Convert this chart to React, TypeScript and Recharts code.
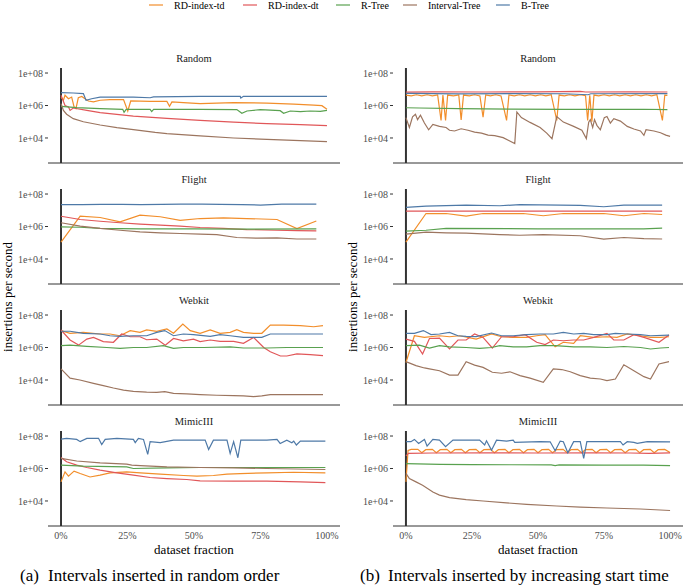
import React from "react";
import { LineChart, Line, XAxis, YAxis, ReferenceLine } from "recharts";

type Pt = [number, number];

const seriesNames = ["RD-index-td", "RD-index-dt", "R-Tree", "Interval-Tree", "B-Tree"];
const seriesColors = ["#F28E2B", "#E15759", "#59A14F", "#9C755F", "#4E79A7"];
const datasetNames = ["Random", "Flight", "Webkit", "MimicIII"];
const yTicks = [1e4, 1e6, 1e8];
const xTicks = [0, 0.25, 0.5, 0.75, 1];
const captions = ["Intervals inserted in random order", "Intervals inserted by increasing start time"];

// (a) random insertion order -------------------------------------------
const aRandomTd: Pt[] = [[0,3.3e6],[0.009,2.1e6],[0.015,4.3e6],[0.028,2.6e6],[0.04,3.3e6],[0.049,8.1e5],[0.056,6.5e5],[0.065,3.0e6],[0.078,3.6e6],[0.09,2.6e6],[0.103,1.9e6],[0.122,1.66e6],[0.147,2.1e6],[0.184,2.3e6],[0.235,2.3e6],[0.251,4.6e5],[0.262,1.9e6],[0.335,1.8e6],[0.398,1.8e6],[0.408,8.9e5],[0.417,1.66e6],[0.46,1.5e6],[0.523,1.3e6],[0.649,1.5e6],[0.774,1.4e6],[0.875,1.2e6],[0.95,1.07e6],[0.981,9.8e5],[1,5.8e5]];
const aRandomDt: Pt[] = [[0,4.3e6],[0.015,1.0e6],[0.028,8.1e5],[0.034,5.0e5],[0.046,7.0e5],[0.097,5.0e5],[0.147,3.6e5],[0.272,2.2e5],[0.398,1.6e5],[0.523,1.23e5],[0.649,9.6e4],[0.774,7.6e4],[0.9,6.6e4],[1,5.7e4]];
const aRandomRt: Pt[] = [[0,8.9e5],[0.059,7.4e5],[0.147,6.5e5],[0.232,5.8e5],[0.237,3.8e5],[0.245,5.8e5],[0.335,5.8e5],[0.341,4.2e5],[0.348,5.8e5],[0.523,5.8e5],[0.661,5.6e5],[0.68,3.3e5],[0.699,4.6e5],[0.749,5.6e5],[0.824,4.8e5],[0.837,3.3e5],[0.862,4.6e5],[0.9,4.2e5],[0.937,4.6e5],[0.975,4.4e5],[1,5.0e5]];
const aRandomIt: Pt[] = [[0,1.3e6],[0.009,5.0e5],[0.021,2.9e5],[0.046,1.55e5],[0.084,1.0e5],[0.147,6.3e4],[0.21,4.4e4],[0.272,3.3e4],[0.354,2.2e4],[0.398,1.87e4],[0.523,1.33e4],[0.649,1.0e4],[0.774,8.3e3],[0.9,6.9e3],[1,5.9e3]];
const aRandomBt: Pt[] = [[0,6.2e6],[0.046,5.9e6],[0.084,5.4e6],[0.094,2.1e6],[0.115,2.6e6],[0.147,3.3e6],[0.272,3.3e6],[0.335,3.0e6],[0.348,3.4e6],[0.523,3.6e6],[0.674,3.6e6],[0.676,2.9e6],[0.686,3.7e6],[0.837,3.7e6],[1,3.7e6]];

const aFlightTd: Pt[] = [[0,1.1e5],[0.072,4.3e6],[0.147,3.6e6],[0.222,1.95e6],[0.297,5.0e6],[0.373,4.0e6],[0.448,2.4e6],[0.523,3.1e6],[0.611,3.4e6],[0.699,3.1e6],[0.812,2.7e6],[0.887,7.5e5],[0.96,2.2e6]];
const aFlightDt: Pt[] = [[0,4.3e6],[0.072,2.7e6],[0.147,2.1e6],[0.222,1.7e6],[0.297,1.4e6],[0.373,1.2e6],[0.448,1.05e6],[0.523,8.7e5],[0.611,7.6e5],[0.699,6.5e5],[0.812,5.9e5],[0.887,5.6e5],[0.96,5.4e5]];
const aFlightRt: Pt[] = [[0,9.5e5],[0.072,9.0e5],[0.147,7.6e5],[0.3,7.2e5],[0.5,7.2e5],[0.7,6.9e5],[0.96,7.2e5]];
const aFlightIt: Pt[] = [[0,1.7e6],[0.072,1.05e6],[0.147,7.6e5],[0.222,5.9e5],[0.297,4.7e5],[0.373,4.1e5],[0.448,3.7e5],[0.523,3.4e5],[0.586,3.2e5],[0.661,2.1e5],[0.737,1.9e5],[0.812,2.0e5],[0.887,1.7e5],[0.96,1.7e5]];
const aFlightBt: Pt[] = [[0,2.2e7],[0.08,2.2e7],[0.15,2.3e7],[0.23,2.3e7],[0.3,2.2e7],[0.38,2.3e7],[0.45,2.4e7],[0.53,2.4e7],[0.6,2.3e7],[0.68,2.2e7],[0.75,2.1e7],[0.83,2.4e7],[0.96,2.4e7]];

const aWebkitTd: Pt[] = [[0,1.1e7],[0.034,7.5e6],[0.084,8.6e6],[0.147,6.8e6],[0.184,6.8e6],[0.222,5.3e6],[0.26,1.1e7],[0.297,8.6e6],[0.322,1.2e7],[0.36,1.0e7],[0.398,1.4e7],[0.423,7.5e6],[0.458,2.8e7],[0.486,1.1e7],[0.523,7.5e6],[0.561,1.2e7],[0.598,7.5e6],[0.636,8.6e6],[0.661,1.26e7],[0.686,8.6e6],[0.724,7.5e6],[0.755,7.5e6],[0.787,2.4e7],[0.837,2.4e7],[0.9,2.2e7],[0.95,1.9e7],[0.985,2.2e7]];
const aWebkitDt: Pt[] = [[0,1.2e7],[0.034,2.9e6],[0.066,1.4e6],[0.097,3.3e6],[0.122,4.2e6],[0.159,2.3e6],[0.197,2.1e6],[0.228,6.8e6],[0.26,4.6e6],[0.297,4.6e6],[0.322,3.0e6],[0.36,3.3e6],[0.392,1.4e6],[0.423,3.6e6],[0.46,2.6e6],[0.498,3.3e6],[0.523,2.3e6],[0.561,2.9e6],[0.598,2.4e6],[0.649,2.4e6],[0.686,1.8e6],[0.724,4.2e6],[0.762,1.0e6],[0.787,5.5e5],[0.825,3.0e5],[0.849,3.0e5],[0.887,4.0e5],[0.937,3.6e5],[0.985,3.2e5]];
const aWebkitRt: Pt[] = [[0,1.3e6],[0.034,1.4e6],[0.097,1.17e6],[0.172,1.0e6],[0.222,8.9e5],[0.272,1.0e6],[0.322,1.0e6],[0.385,1.3e6],[0.423,8.9e5],[0.46,1.0e6],[0.536,1.0e6],[0.636,1.1e6],[0.686,9.3e5],[0.774,9.3e5],[0.849,1.0e6],[0.985,1.0e6]];
const aWebkitIt: Pt[] = [[0,4.8e4],[0.034,1.3e4],[0.071,1.0e4],[0.122,6.2e3],[0.159,4.5e3],[0.197,3.2e3],[0.235,2.4e3],[0.272,2.0e3],[0.322,1.8e3],[0.36,1.75e3],[0.39,1.9e3],[0.423,1.5e3],[0.473,1.4e3],[0.523,1.26e3],[0.586,1.15e3],[0.649,1.1e3],[0.686,1.05e3],[0.724,9.4e2],[0.755,1.05e3],[0.787,1.26e3],[0.9,1.26e3],[0.985,1.26e3]];
const aWebkitBt: Pt[] = [[0,1.0e7],[0.034,1.0e7],[0.084,7.5e6],[0.147,6.8e6],[0.184,5.3e6],[0.222,4.9e6],[0.272,5.3e6],[0.322,5.3e6],[0.36,8.6e6],[0.39,1.1e7],[0.423,5.3e6],[0.46,6.8e6],[0.498,6.2e6],[0.561,4.9e6],[0.598,6.2e6],[0.636,5.3e6],[0.686,4.2e6],[0.755,4.2e6],[0.787,6.8e6],[0.9,6.8e6],[0.985,6.8e6]];

const aMimicTd: Pt[] = [[0,1.5e5],[0.015,6.2e5],[0.028,3.4e5],[0.049,6.9e5],[0.072,4.9e5],[0.109,3.0e5],[0.147,3.9e5],[0.184,5.4e5],[0.247,6.2e5],[0.298,5.4e5],[0.373,4.5e5],[0.461,3.7e5],[0.511,3.4e5],[0.573,3.7e5],[0.624,4.5e5],[0.674,4.9e5],[0.774,5.4e5],[0.875,5.9e5],[0.994,5.4e5]];
const aMimicDt: Pt[] = [[0,4.8e6],[0.021,2.6e6],[0.059,1.6e6],[0.097,1.15e6],[0.147,7.9e5],[0.21,5.4e5],[0.272,3.9e5],[0.335,2.8e5],[0.398,2.4e5],[0.473,2.1e5],[0.523,1.73e5],[0.649,1.65e5],[0.774,1.65e5],[0.9,1.5e5],[0.994,1.35e5]];
const aMimicRt: Pt[] = [[0,1.6e6],[0.084,1.4e6],[0.247,1.26e6],[0.272,1.0e6],[0.398,1.1e6],[0.523,1.15e6],[0.774,1.15e6],[0.994,1.15e6]];
const aMimicIt: Pt[] = [[0,4.2e6],[0.059,2.9e6],[0.147,2.2e6],[0.247,1.85e6],[0.266,1.6e6],[0.298,1.5e6],[0.398,1.27e6],[0.523,1.15e6],[0.649,1.1e6],[0.774,1.0e6],[0.994,8.7e5]];
const aMimicBt: Pt[] = [[0,6.5e7],[0.021,7.2e7],[0.059,6.2e7],[0.072,4.5e7],[0.097,7.2e7],[0.141,7.2e7],[0.153,3.0e7],[0.166,6.2e7],[0.21,7.2e7],[0.272,6.2e7],[0.279,3.9e7],[0.291,7.2e7],[0.31,6.2e7],[0.326,7.4e6],[0.335,4.5e7],[0.373,3.9e7],[0.423,5.6e7],[0.542,5.6e7],[0.555,1.5e7],[0.573,5.6e7],[0.624,5.6e7],[0.636,8.5e6],[0.649,4.5e7],[0.665,4.6e6],[0.676,5.6e7],[0.774,5.6e7],[0.812,6.2e7],[0.824,3.5e7],[0.849,5.6e7],[0.868,3.9e7],[0.875,4.9e7],[0.885,2.8e7],[0.9,4.9e7],[0.994,4.9e7]];

// (b) insertion by increasing start time -------------------------------
const bRandomTd: Pt[] = [[0,4.4e6],[0.02,3.9e6],[0.04,4.6e6],[0.06,3.9e6],[0.08,4.6e6],[0.1,3.9e6],[0.12,4.5e6],[0.133,1.2e5],[0.14,4.4e6],[0.15,1.2e5],[0.158,4.4e6],[0.18,3.9e6],[0.2,4.5e6],[0.209,1.3e5],[0.218,4.4e6],[0.24,3.9e6],[0.26,4.6e6],[0.28,3.9e6],[0.292,1.9e5],[0.302,4.5e6],[0.32,3.9e6],[0.34,4.6e6],[0.36,3.9e6],[0.381,1.2e5],[0.39,4.5e6],[0.41,3.9e6],[0.43,4.6e6],[0.45,3.9e6],[0.47,4.6e6],[0.49,3.9e6],[0.51,4.6e6],[0.53,3.9e6],[0.55,4.6e6],[0.571,1.2e5],[0.58,4.4e6],[0.6,3.9e6],[0.62,4.6e6],[0.64,3.9e6],[0.66,4.6e6],[0.68,4.0e6],[0.688,1.2e5],[0.696,4.3e6],[0.704,1.0e5],[0.712,4.4e6],[0.73,3.9e6],[0.75,4.6e6],[0.77,3.9e6],[0.79,4.6e6],[0.81,3.9e6],[0.83,4.6e6],[0.85,3.9e6],[0.87,4.6e6],[0.89,3.9e6],[0.91,4.6e6],[0.93,3.9e6],[0.95,4.6e6],[0.971,1.2e5],[0.98,4.4e6],[0.99,4.2e6]];
const bRandomDt: Pt[] = [[0,6.6e6],[0.1,6.9e6],[0.3,6.8e6],[0.5,6.9e6],[0.66,7.4e6],[0.68,6.8e6],[0.85,6.9e6],[0.99,6.8e6]];
const bRandomRt: Pt[] = [[0,7.3e5],[0.05,7.0e5],[0.2,6.4e5],[0.4,6.0e5],[0.6,5.8e5],[0.8,5.7e5],[0.9,5.9e5],[0.99,5.6e5]];
const bRandomIt: Pt[] = [[0,1.8e5],[0.013,4.4e4],[0.025,2.0e5],[0.036,2.9e5],[0.044,1.35e5],[0.055,2.5e5],[0.07,8.3e4],[0.086,3.2e4],[0.102,6.9e4],[0.127,5.2e4],[0.152,4.4e4],[0.165,3.0e4],[0.184,2.7e4],[0.209,3.7e4],[0.235,3.0e4],[0.26,2.3e4],[0.286,2.0e4],[0.311,1.5e4],[0.336,1.4e4],[0.368,1.05e4],[0.412,4.5e3],[0.42,4.0e5],[0.437,1.8e5],[0.47,9.1e4],[0.508,4.4e4],[0.533,2.0e4],[0.553,9.1e3],[0.571,2.1e5],[0.596,9.5e4],[0.635,5.2e4],[0.666,3.0e4],[0.683,9.1e3],[0.692,9.5e4],[0.698,1.35e5],[0.707,4.4e4],[0.714,1.35e5],[0.723,6.0e4],[0.736,3.2e4],[0.751,1.8e5],[0.761,2.1e5],[0.774,8.3e4],[0.787,1.55e5],[0.812,1.1e5],[0.838,5.2e4],[0.863,3.6e4],[0.888,2.7e4],[0.901,1.45e4],[0.909,3.2e4],[0.939,2.7e4],[0.964,2.1e4],[0.984,1.5e4],[1,1.26e4]];
const bRandomBt: Pt[] = [[0,5.6e6],[0.2,5.2e6],[0.4,5.4e6],[0.6,5.3e6],[0.69,4.6e6],[0.7,5.3e6],[0.99,5.4e6]];

const bFlightTd: Pt[] = [[0,1.1e5],[0.076,6.3e6],[0.152,6.3e6],[0.228,4.4e6],[0.292,6.3e6],[0.444,6.3e6],[0.52,4.6e6],[0.596,6.3e6],[0.749,6.3e6],[0.825,4.6e6],[0.901,6.3e6],[0.97,5.5e6]];
const bFlightDt: Pt[] = [[0,8.9e6],[0.2,8.9e6],[0.5,8.8e6],[0.8,8.9e6],[0.97,8.9e6]];
const bFlightRt: Pt[] = [[0,5.2e5],[0.076,5.9e5],[0.152,7.6e5],[0.5,7.2e5],[0.9,7.2e5],[0.97,7.9e5]];
const bFlightIt: Pt[] = [[0,3.4e5],[0.076,4.5e5],[0.152,4.1e5],[0.228,3.9e5],[0.355,3.2e5],[0.431,2.9e5],[0.52,3.2e5],[0.66,2.7e5],[0.749,1.66e5],[0.825,2.1e5],[0.901,1.8e5],[0.97,1.7e5]];
const bFlightBt: Pt[] = [[0,1.5e7],[0.076,1.8e7],[0.228,2.1e7],[0.355,1.9e7],[0.431,2.2e7],[0.66,2.0e7],[0.749,1.65e7],[0.825,2.1e7],[0.97,2.1e7]];

const bWebkitTd: Pt[] = [[0,1.2e5],[0.032,5.3e6],[0.07,4.2e6],[0.127,5.3e6],[0.165,4.6e6],[0.203,5.3e6],[0.266,3.3e6],[0.324,6.8e6],[0.362,4.6e6],[0.406,4.2e6],[0.457,4.2e6],[0.495,5.3e6],[0.527,6.2e6],[0.565,1.1e6],[0.596,2.1e6],[0.635,1.8e6],[0.66,5.3e6],[0.711,4.2e6],[0.761,4.6e6],[0.799,4.2e6],[0.838,6.8e6],[0.888,5.3e6],[0.926,4.2e6],[0.964,4.2e6],[0.996,4.6e6]];
const bWebkitDt: Pt[] = [[0,3.3e6],[0.032,2.4e6],[0.063,4.0e5],[0.089,3.6e6],[0.127,3.8e6],[0.165,8.1e5],[0.197,2.9e6],[0.228,2.9e6],[0.26,6.8e6],[0.292,4.2e6],[0.327,9.3e5],[0.362,4.6e6],[0.406,4.6e6],[0.451,6.2e6],[0.495,2.1e6],[0.527,1.5e6],[0.558,2.9e6],[0.596,2.6e6],[0.635,2.9e6],[0.673,2.9e6],[0.711,4.2e6],[0.761,7.4e6],[0.787,2.9e6],[0.825,2.9e6],[0.863,6.2e6],[0.901,4.2e6],[0.958,2.1e6],[0.996,5.8e6]];
const bWebkitRt: Pt[] = [[0,1.3e6],[0.051,1.4e6],[0.089,9.3e5],[0.127,1.3e6],[0.165,1.1e6],[0.228,1.0e6],[0.279,8.9e5],[0.324,1.0e6],[0.355,1.3e6],[0.406,1.1e6],[0.457,1.1e6],[0.508,1.3e6],[0.565,1.3e6],[0.635,1.1e6],[0.698,1.1e6],[0.761,1.0e6],[0.825,1.15e6],[0.888,1.0e6],[0.926,8.1e5],[0.964,9.3e5],[0.996,1.0e6]];
const bWebkitIt: Pt[] = [[0,1.35e5],[0.038,7.6e4],[0.07,5.5e4],[0.089,4.8e4],[0.127,3.7e4],[0.165,2.0e4],[0.197,2.0e4],[0.228,1.35e5],[0.26,8.3e4],[0.292,6.0e4],[0.327,3.0e4],[0.362,2.6e4],[0.394,3.2e4],[0.432,1.85e4],[0.47,1.3e4],[0.52,7.2e3],[0.558,4.8e4],[0.59,4.4e4],[0.622,3.2e4],[0.66,1.85e4],[0.698,1.3e4],[0.736,1.15e4],[0.761,9.1e3],[0.793,1.15e4],[0.825,8.7e4],[0.863,3.7e4],[0.901,1.6e4],[0.926,1.15e4],[0.958,9.6e4],[0.996,1.35e5]];
const bWebkitBt: Pt[] = [[0,7.4e6],[0.032,7.4e6],[0.066,1.1e7],[0.095,6.2e6],[0.127,6.8e6],[0.165,8.6e6],[0.197,5.3e6],[0.228,4.9e6],[0.266,4.7e6],[0.324,7.8e6],[0.362,5.3e6],[0.406,5.3e6],[0.457,6.2e6],[0.508,6.8e6],[0.558,6.8e6],[0.596,8.6e6],[0.635,6.8e6],[0.673,7.4e6],[0.711,6.2e6],[0.761,6.2e6],[0.793,7.4e6],[0.838,6.8e6],[0.888,6.2e6],[0.926,5.3e6],[0.996,5.8e6]];

const bMimicTd: Pt[] = [[0,1.5e5],[0.008,1.3e7],[0.02,1.5e7],[0.045,1.5e7],[0.06,9.5e6],[0.075,1.45e7],[0.1,1.5e7],[0.115,9.5e6],[0.13,1.45e7],[0.155,1.5e7],[0.17,9.5e6],[0.185,1.45e7],[0.21,1.5e7],[0.225,9.5e6],[0.24,1.45e7],[0.265,1.5e7],[0.28,9.5e6],[0.295,1.45e7],[0.32,1.5e7],[0.335,9.5e6],[0.35,1.45e7],[0.375,1.5e7],[0.39,9.5e6],[0.405,1.45e7],[0.43,1.5e7],[0.445,9.5e6],[0.46,1.45e7],[0.485,1.5e7],[0.5,9.5e6],[0.515,1.45e7],[0.54,1.5e7],[0.555,9.5e6],[0.57,1.45e7],[0.595,1.5e7],[0.61,9.5e6],[0.625,1.45e7],[0.65,1.5e7],[0.665,9.5e6],[0.68,1.45e7],[0.705,1.5e7],[0.72,9.5e6],[0.735,1.45e7],[0.76,1.5e7],[0.775,9.5e6],[0.79,1.45e7],[0.815,1.5e7],[0.83,9.5e6],[0.845,1.45e7],[0.87,1.5e7],[0.885,9.5e6],[0.9,1.45e7],[0.925,1.5e7],[0.94,9.5e6],[0.955,1.45e7],[0.98,1.5e7],[1,9.8e6]];
const bMimicDt: Pt[] = [[0,6.0e6],[0.01,8.5e6],[0.1,9.0e6],[0.3,9.2e6],[0.5,9.0e6],[0.7,9.3e6],[0.85,9.0e6],[0.92,8.5e6],[1,9.2e6]];
const bMimicRt: Pt[] = [[0,2.0e6],[0.13,1.8e6],[0.25,1.75e6],[0.4,1.7e6],[0.55,1.65e6],[0.565,1.5e6],[0.58,1.65e6],[0.75,1.6e6],[0.9,1.6e6],[1,1.5e6]];
const bMimicIt: Pt[] = [[0,5.0e5],[0.013,2.4e5],[0.038,1.5e5],[0.063,9.3e4],[0.102,3.6e4],[0.127,2.3e4],[0.165,1.6e4],[0.228,1.2e4],[0.292,1.0e4],[0.381,7.6e3],[0.457,6.2e3],[0.571,4.9e3],[0.66,4.2e3],[0.761,3.7e3],[0.888,3.2e3],[1,2.6e3]];
const bMimicBt: Pt[] = [[0,4.5e7],[0.019,4.5e7],[0.032,6.2e7],[0.048,3.5e7],[0.07,6.2e7],[0.08,2.4e7],[0.102,6.2e7],[0.127,5.6e7],[0.15,2.2e7],[0.178,5.6e7],[0.279,5.6e7],[0.298,2.8e7],[0.305,5.1e7],[0.324,1.35e7],[0.343,5.6e7],[0.381,4.9e7],[0.406,5.6e7],[0.412,4.1e7],[0.508,4.5e7],[0.546,4.4e7],[0.565,1.24e7],[0.584,4.9e7],[0.596,4.5e7],[0.613,9.3e6],[0.635,4.5e7],[0.66,4.5e7],[0.673,4.2e6],[0.685,4.5e7],[0.761,4.5e7],[0.812,4.5e7],[0.822,2.8e7],[0.838,4.5e7],[0.863,4.1e7],[0.876,3.5e7],[0.914,4.5e7],[1,4.4e7]];

const panelsA: Pt[][][] = [
  [aRandomTd, aRandomDt, aRandomRt, aRandomIt, aRandomBt],
  [aFlightTd, aFlightDt, aFlightRt, aFlightIt, aFlightBt],
  [aWebkitTd, aWebkitDt, aWebkitRt, aWebkitIt, aWebkitBt],
  [aMimicTd, aMimicDt, aMimicRt, aMimicIt, aMimicBt],
];
const panelsB: Pt[][][] = [
  [bRandomTd, bRandomDt, bRandomRt, bRandomIt, bRandomBt],
  [bFlightTd, bFlightDt, bFlightRt, bFlightIt, bFlightBt],
  [bWebkitTd, bWebkitDt, bWebkitRt, bWebkitIt, bWebkitBt],
  [bMimicTd, bMimicDt, bMimicRt, bMimicIt, bMimicBt],
];

const FONT = "Liberation Serif, Times New Roman, serif";
const PH = 95;
const ROW_TOPS = [68, 189, 310, 431];
const COLS = [
  { left: 48, width: 292, panels: panelsA },
  { left: 393, width: 290, panels: panelsB },
];
const Y_DOMAIN = [288, 2.04e8];
const X_DOMAIN = [-0.049, 1.049];

const fmtExp = (v: number) => `1e+0${Math.round(Math.log10(v))}`;
const fmtPct = (v: number) => `${Math.round(v * 100)}%`;
const tickStyle = { fill: "#4d4d4d", fontSize: 10, fontFamily: FONT };

function Panel({ left, top, width, series, bottom }: { left: number; top: number; width: number; series: Pt[][]; bottom: boolean }) {
  const xh = bottom ? 22 : 1;
  return (
    <div style={{ position: "absolute", left: left - 48, top, fontFamily: FONT }}>
      <LineChart width={48 + width} height={PH + xh} margin={{ top: 0, right: 0, bottom: 0, left: 0 }} style={{ fontFamily: FONT }}>
        <XAxis
          type="number"
          dataKey="x"
          domain={X_DOMAIN}
          allowDataOverflow
          ticks={xTicks}
          interval={0}
          height={xh}
          axisLine={{ stroke: "#333", strokeWidth: 1 }}
          tickLine={false}
          tickSize={4}
          tickMargin={2}
          tick={bottom ? tickStyle : false}
          tickFormatter={fmtPct}
        />
        <YAxis
          type="number"
          scale="log"
          domain={Y_DOMAIN}
          allowDataOverflow
          ticks={yTicks}
          interval={0}
          width={48}
          axisLine={false}
          tickLine={{ stroke: "#333" }}
          tickSize={3}
          tickMargin={2}
          tick={tickStyle}
          tickFormatter={fmtExp}
        />
        <ReferenceLine x={0} stroke="#333" strokeWidth={2} />
        {series.map((pts, i) => (
          <Line
            key={seriesNames[i]}
            data={pts.map(([x, y]) => ({ x, y }))}
            dataKey="y"
            type="linear"
            stroke={seriesColors[i]}
            strokeWidth={1.2}
            dot={false}
            activeDot={false}
            isAnimationActive={false}
          />
        ))}
      </LineChart>
    </div>
  );
}

const legendX = [149, 243, 336, 403, 496];

export default function App() {
  return (
    <div style={{ position: "absolute", left: 0, top: 0, width: 685, height: 586, background: "#fff", fontFamily: FONT }}>
      {COLS.map((col, c) =>
        col.panels.map((series, r) => (
          <Panel key={`${c}-${r}`} left={col.left} top={ROW_TOPS[r]} width={col.width} series={series} bottom={r === 3} />
        ))
      )}
      <svg width={685} height={586} style={{ position: "absolute", left: 0, top: 0, pointerEvents: "none", fontFamily: FONT }}>
        {seriesNames.map((name, i) => (
          <g key={name}>
            <line x1={legendX[i]} x2={legendX[i] + 14} y1={5} y2={5} stroke={seriesColors[i]} strokeWidth={1.2} />
            <text x={legendX[i] + 25} y={8.5} fontSize={10} fill="#000">{name}</text>
          </g>
        ))}
        {COLS.map((col, c) => (
          <g key={c}>
            {datasetNames.map((d, r) => (
              <text key={d} x={col.left + col.width / 2} y={ROW_TOPS[r] - 10} fontSize={10.5} fill="#1a1a1a" textAnchor="middle" dominantBaseline="central">{d}</text>
            ))}
            <text x={col.left + col.width / 2} y={549} fontSize={13} textAnchor="middle" dominantBaseline="central">dataset fraction</text>
            <text transform={`translate(${col.left - 41},297) rotate(-90)`} fontSize={13} textAnchor="middle" dominantBaseline="central">insertions per second</text>
          </g>
        ))}
        <text x={20} y={581} fontSize={17}>(a)</text>
        <text x={48} y={581} fontSize={17}>{captions[0]}</text>
        <text x={360} y={581} fontSize={17}>(b)</text>
        <text x={388} y={581} fontSize={17}>{captions[1]}</text>
      </svg>
    </div>
  );
}
